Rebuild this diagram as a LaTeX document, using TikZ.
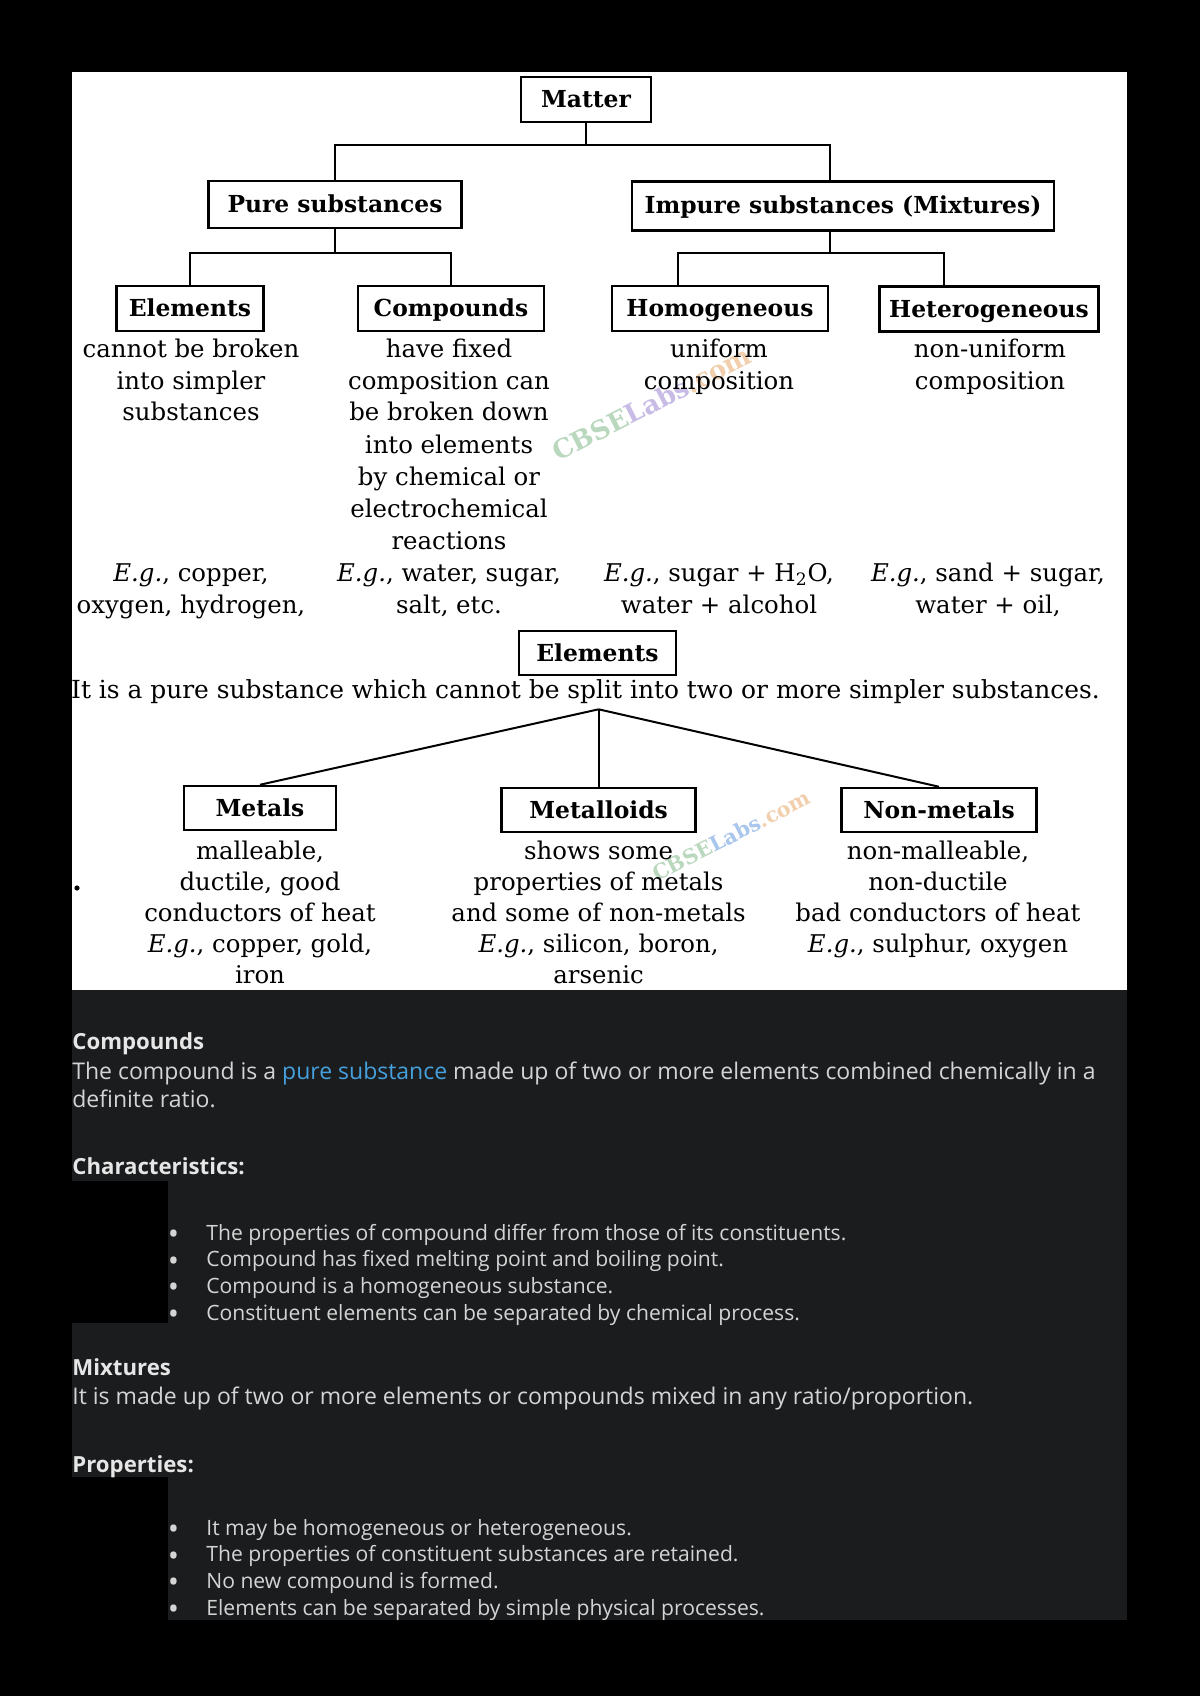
\documentclass[tikz,border=0pt]{standalone}
\usepackage{fontspec}
\setmainfont{DejaVu Serif}
\newfontfamily\uisans{Open Sans}
\definecolor{panel}{HTML}{1B1C1E}
\definecolor{bodytxt}{HTML}{D4D4D4}
\definecolor{headtxt}{HTML}{E6E6E6}
\definecolor{linkblue}{HTML}{45A0DC}
\definecolor{wmgreen}{HTML}{B9D8BD}
\definecolor{wmlav}{HTML}{C8BCE6}
\definecolor{wmblue}{HTML}{A9C6EC}
\definecolor{wmorange}{HTML}{F2CFAC}
\newcommand\mycol[1]{\begin{tabular}[t]{@{}c@{}}#1\end{tabular}}
\newcommand\myleft[1]{\begin{tabular}[t]{@{}l@{}}#1\end{tabular}}
\newcommand\bigdot{\raisebox{-2.2pt}{\fontsize{15}{13}\selectfont •}}
\tikzset{
 boxnode/.style={draw=black, line width=1.25pt, fill=white, inner sep=0pt, text height=8.5pt, text depth=0.5pt, font=\fontsize{11.7}{14}\selectfont\bfseries},
 conn/.style={draw=black, line width=1pt},
 coltext/.style={inner sep=0pt, anchor=base, font=\fontsize{12.2}{16}\selectfont},
 lowtext/.style={inner sep=0pt, anchor=base, font=\fontsize{12.2}{15.6}\selectfont},
 uitext/.style={inner sep=0pt, anchor=base west, text=bodytxt, font=\uisans\fontsize{11.5}{14.1}\selectfont},
 uilist/.style={inner sep=0pt, anchor=base west, text=bodytxt, font=\uisans\fontsize{10.55}{13.35}\selectfont},
 uihead/.style={inner sep=0pt, anchor=base west, text=headtxt, font=\uisans\bfseries\fontsize{11.1}{14}\selectfont},
 wm/.style={inner sep=0pt, anchor=base west, font=\bfseries\fontsize{13}{13}\selectfont},
}
\begin{document}
\begin{tikzpicture}[x=0.5pt,y=-0.5pt]
\useasboundingbox (0,0) rectangle (1200,1696);
\fill[black] (0,0) rectangle (1200,1696);
\fill[white] (72,72.5) rectangle (1127,989.5);
\fill[panel] (72,989.5) rectangle (1127,1620);
\fill[black] (72,1181) rectangle (168,1323);
\fill[black] (72,1477) rectangle (168,1620);

% watermarks
\node[wm, rotate=27] (wm1) at (558,462) {\textcolor{wmgreen}{CBSE}\textcolor{wmlav}{Labs}\textcolor{wmorange}{.com}};
\node[wm, rotate=27, font=\bfseries\fontsize{10.3}{10.3}\selectfont] (wm2) at (657,882) {\textcolor{wmgreen}{CBSE}\textcolor{wmblue}{Labs}\textcolor{wmorange}{.com}};

% level 0/1
\node[boxnode, minimum width=65pt, minimum height=22.5pt] (matter) at (586,99.5) {Matter};
\node[boxnode, minimum width=126.5pt, minimum height=23.5pt] (pure) at (335,204.5) {Pure substances};
\node[boxnode, minimum width=211pt, minimum height=24.5pt] (impure) at (843,206) {Impure substances (Mixtures)};
\coordinate (j0) at (586,145);
\coordinate (impTop) at ([xshift=-6.5pt]impure.north);
\draw[conn] (matter.south) -- (j0);
\draw[conn] (pure.north) |- (j0) -| (impTop);

% level 2
\node[boxnode, minimum width=73.5pt, minimum height=22.5pt] (elem) at (190,308.5) {Elements};
\node[boxnode, minimum width=93pt, minimum height=22.5pt] (comp) at (451,308.5) {Compounds};
\node[boxnode, minimum width=108pt, minimum height=22.5pt] (homo) at (720,308.5) {Homogeneous};
\node[boxnode, minimum width=109.5pt, minimum height=22.5pt] (hetero) at (989,309) {Heterogeneous};
\coordinate (j1) at (335,253);
\draw[conn] (pure.south) -- (j1);
\draw[conn] (elem.north) |- (j1) -| (comp.north);
\coordinate (impBot) at ([xshift=-6.5pt]impure.south);
\coordinate (j2) at (impBot |- j1);
\coordinate (homoTop) at ([xshift=-21pt]homo.north);
\coordinate (hetTop) at ([xshift=-22.5pt]hetero.north);
\draw[conn] (impBot) -- (j2);
\draw[conn] (homoTop) |- (j2) -| (hetTop);

% column texts
\node[coltext] (elemtxt) at (191,357) {\mycol{cannot be broken\\into simpler\\substances}};
\node[coltext] (comptxt) at (449,357) {\mycol{have fixed\\composition can\\be broken down\\into elements\\by chemical or\\electrochemical\\reactions}};
\node[coltext] (homotxt) at (719,357) {\mycol{uniform\\composition}};
\node[coltext] (hettxt) at (990,357) {\mycol{non-uniform\\composition}};
\node[coltext] (elemeg) at (191,581) {\mycol{\textit{E.g.}, copper,\\oxygen, hydrogen,}};
\node[coltext] (compeg) at (449,581) {\mycol{\textit{E.g.}, water, sugar,\\salt, etc.}};
\node[coltext] (homoeg) at (719,581) {\mycol{\textit{E.g.}, sugar + H\textsubscript{2}O,\\water + alcohol}};
\node[coltext] (heteg) at (988,581) {\mycol{\textit{E.g.}, sand + sugar,\\water + oil,}};

% elements section
\node[boxnode, minimum width=78.5pt, minimum height=22pt] (elem2) at (597.5,653) {Elements};
\node[coltext, font=\fontsize{12.45}{16}\selectfont] (def) at (585.5,698) {It is a pure substance which cannot be split into two or more simpler substances.};
\coordinate (apex) at (598.6,709.3);
\node[boxnode, minimum width=76pt, minimum height=22pt] (metals) at (260,808) {Metals};
\node[boxnode, minimum width=97pt, minimum height=22pt] (metalloids) at (598.6,810) {Metalloids};
\node[boxnode, minimum width=97.5pt, minimum height=22pt] (nonmetals) at (939,810) {Non-metals};
\draw[conn] (apex) -- (metals.north);
\draw[conn] (apex) -- (metalloids.north);
\draw[conn] (apex) -- (nonmetals.north);
\node[lowtext] (mettxt) at (260,859) {\mycol{malleable,\\ductile, good\\conductors of heat\\\textit{E.g.}, copper, gold,\\iron}};
\node[lowtext] (mlotxt) at (598.6,859) {\mycol{shows some\\properties of metals\\and some of non-metals\\\textit{E.g.}, silicon, boron,\\arsenic}};
\node[lowtext] (nmtxt) at (938,859) {\mycol{non-malleable,\\non-ductile\\bad conductors of heat\\\textit{E.g.}, sulphur, oxygen}};
\fill[black] (77,888) circle[radius=1.3pt];

% dark section
\node[uihead] (chead) at (72,1049) {Compounds};
\node[uitext] (cdef) at (72,1079) {\myleft{The compound is a \textcolor{linkblue}{pure substance} made up of two or more elements combined chemically in a\\definite ratio.}};
\node[uihead] (charh) at (72,1174) {Characteristics:};
\node[uilist, anchor=base] (cbul) at (173.6,1240) {\mycol{\bigdot\\\bigdot\\\bigdot\\\bigdot}};
\node[uilist] (clist) at (206,1240) {\myleft{The properties of compound differ from those of its constituents.\\Compound has fixed melting point and boiling point.\\Compound is a homogeneous substance.\\Constituent elements can be separated by chemical process.}};
\node[uihead] (mixh) at (72,1375) {Mixtures};
\node[uitext] (mixdef) at (72,1404) {It is made up of two or more elements or compounds mixed in any ratio/proportion.};
\node[uihead] (proph) at (72,1472) {Properties:};
\node[uilist, anchor=base] (pbul) at (173.6,1535) {\mycol{\bigdot\\\bigdot\\\bigdot\\\bigdot}};
\node[uilist] (plist) at (206,1535) {\myleft{It may be homogeneous or heterogeneous.\\The properties of constituent substances are retained.\\No new compound is formed.\\Elements can be separated by simple physical processes.}};
\end{tikzpicture}
\end{document}
